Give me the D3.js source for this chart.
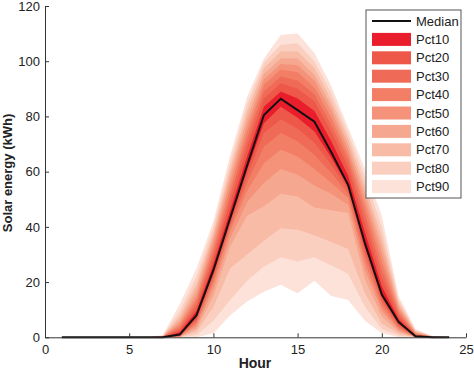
<!DOCTYPE html>
<html>
<head>
<meta charset="utf-8">
<script src="https://cdn.jsdelivr.net/npm/d3@7"></script>
<style>
  body { margin: 0; background: #fff; }
  svg { display: block; font-family: "Liberation Sans", Arial, Helvetica, sans-serif; }
</style>
</head>
<body>
<script>
// hours of the day
const hours = [1,2,3,4,5,6,7,8,9,10,11,12,13,14,15,16,17,18,19,20,21,22,23,24];

const median = [0,0,0,0,0,0,0,1,8,24.3,43.2,62.2,80.5,86.4,82.3,78.1,67,55.2,34,15.5,5.5,0.4,0,0];

// lower / upper edges of each percentile band (kWh)
const pct10Lo = [0,0,0,0,0,0,0,0.8,7.3,23.3,42.3,60.5,77.5,83.5,79.5,74.5,65,54.5,32.8,14.7,5,0.3,0,0];
const pct10Hi = [0,0,0,0,0,0,0.05,1.8,9.5,26.5,46,65.5,83.5,89,86.5,82,71,58.5,38,18.5,6.5,0.6,0.05,0];
const pct20Lo = [0,0,0,0,0,0,0,0.6,6.5,22.3,41.3,58.5,74,79,75.5,70.5,62.5,53.5,31.3,13.7,4.4,0.2,0,0];
const pct20Hi = [0,0,0,0,0,0,0.1,2.6,11,28.5,49,69,86.5,92,90,85.5,74.5,61.5,41.5,21.5,7.5,0.8,0.1,0];
const pct30Lo = [0,0,0,0,0,0,0,0.4,5.7,21,40,56,69,74,71,66,59.5,52,29.5,12.5,3.8,0.1,0,0];
const pct30Hi = [0,0,0,0,0,0,0.15,3.4,12.5,30.5,51.5,72,89,94.5,93,88,77,64,44.5,24.5,8.5,1,0.1,0];
const pct40Lo = [0,0,0,0,0,0,0,0.3,4.8,19.5,38.5,53,63,68,65.5,61,56,50.5,27,11,3.2,0,0,0];
const pct40Hi = [0,0,0,0,0,0,0.2,4.3,14,32.5,54,74.5,91.5,97,96,90.5,79.5,66,47.5,27.5,9.5,1.3,0.15,0];
const pct50Lo = [0,0,0,0,0,0,0,0.2,4,17.5,36,49,56,61,59,55,52,48,24.5,9.5,2.6,0,0,0];
const pct50Hi = [0,0,0,0,0,0,0.3,5.2,15.5,34.5,56.5,77,93.5,99,98.5,93,82,68,50,30.5,10.5,1.6,0.2,0];
const pct60Lo = [0,0,0,0,0,0,0,0.1,3,15,33,44,47.5,52,51,47,46,45,21,7.5,2,0,0,0];
const pct60Hi = [0,0,0,0,0,0,0.4,6.3,17.5,36.5,59,79.5,95.5,101,101,95,84,70,52.5,33.5,11.5,1.9,0.25,0];
const pct70Lo = [0,0,0,0,0,0,0,0,2,11,25,30,35,39.5,39,37,34.5,32,16,5,1.3,0,0,0];
const pct70Hi = [0,0,0,0,0,0,0.5,7.6,19.5,38,61,82,97.5,103.5,103.5,97.5,86,72,55,36.5,12.5,2.2,0.3,0];
const pct80Lo = [0,0,0,0,0,0,0,0,0.8,6,13.5,20.5,25.6,29,27.5,29,26,23,11,3,0.6,0,0,0];
const pct80Hi = [0,0,0,0,0,0,0.6,9.5,22,40,63.5,84.5,99.5,106,106.5,100,88.5,74,58,40,13.7,2.6,0.4,0];
const pct90Lo = [0,0,0,0,0,0,0,0,0,1.5,8,13,16.5,19,16,20.5,15,13.5,6,1.5,0,0,0,0];
const pct90Hi = [0,0,0,0,0,0,0.8,12,25,42,66,87,101,109.5,110,103,91,76,61,44,15,3,0.5,0];

const bandNames = ["Pct10","Pct20","Pct30","Pct40","Pct50","Pct60","Pct70","Pct80","Pct90"];
const bandLo = [pct10Lo,pct20Lo,pct30Lo,pct40Lo,pct50Lo,pct60Lo,pct70Lo,pct80Lo,pct90Lo];
const bandHi = [pct10Hi,pct20Hi,pct30Hi,pct40Hi,pct50Hi,pct60Hi,pct70Hi,pct80Hi,pct90Hi];
const bandColors = ["#ea1d2c","#ee5848","#f06b57","#f27e66","#f49379","#f6a78f","#f8bba6","#fbcfc0","#fde2d9"];

const xTicks = [0,5,10,15,20,25];
const yTicks = [0,20,40,60,80,100,120];

const width = 474, height = 370;

const svg = d3.select("body").append("svg")
    .attr("width", width)
    .attr("height", height);

const x = d3.scaleLinear().domain([0, 25]).range([45, 466]);
const y = d3.scaleLinear().domain([0, 120]).range([337.3, 6]);

// bands, widest (lightest) first so the narrow ones sit on top
for (let b = bandNames.length - 1; b >= 0; b--) {
    const area = d3.area()
        .x((d, i) => x(hours[i]))
        .y0((d, i) => y(bandLo[b][i]))
        .y1((d, i) => y(bandHi[b][i]));
    svg.append("path")
        .datum(hours)
        .attr("d", area)
        .attr("fill", bandColors[b]);
}

const line = d3.line()
    .x((d, i) => x(hours[i]))
    .y(d => y(d));

svg.append("path")
    .datum(median)
    .attr("d", line)
    .attr("fill", "none")
    .attr("stroke", "#111")
    .attr("stroke-width", 2);

// axes (ticks point inward like matlab)
const xAxis = svg.append("g")
    .attr("transform", `translate(0,${y(0)})`)
    .call(d3.axisBottom(x).tickValues(xTicks).tickSizeInner(-4).tickSizeOuter(0).tickPadding(7));

const yAxis = svg.append("g")
    .attr("transform", `translate(${x(0)},0)`)
    .call(d3.axisLeft(y).tickValues(yTicks).tickSizeInner(-4).tickSizeOuter(0).tickPadding(5));

[xAxis, yAxis].forEach(g => {
    g.selectAll("path,line").attr("stroke", "#333");
    g.selectAll("text").attr("font-size", 13).attr("fill", "#222")
        .attr("font-family", "Liberation Sans, Arial, sans-serif");
});

svg.append("text")
    .attr("x", 255).attr("y", 368)
    .attr("text-anchor", "middle")
    .attr("font-size", 14).attr("font-weight", "bold").attr("fill", "#222")
    .text("Hour");

svg.append("text")
    .attr("transform", "translate(12,173) rotate(-90)")
    .attr("text-anchor", "middle")
    .attr("font-size", 13).attr("font-weight", "bold").attr("fill", "#222")
    .text("Solar energy (kWh)");

// legend
const lg = svg.append("g");
lg.append("rect")
    .attr("x", 366).attr("y", 10).attr("width", 95).attr("height", 188)
    .attr("fill", "#fff").attr("stroke", "#555").attr("stroke-width", 1);

const rowY = i => 21 + i * 18.4;

lg.append("line")
    .attr("x1", 372).attr("x2", 411)
    .attr("y1", rowY(0)).attr("y2", rowY(0))
    .attr("stroke", "#111").attr("stroke-width", 2);
lg.append("text")
    .attr("x", 416).attr("y", rowY(0)).attr("dy", "0.35em")
    .attr("font-size", 13).attr("fill", "#222")
    .text("Median");

bandNames.forEach((name, i) => {
    lg.append("rect")
        .attr("x", 372).attr("y", rowY(i + 1) - 6.5)
        .attr("width", 39).attr("height", 13)
        .attr("fill", bandColors[i]);
    lg.append("text")
        .attr("x", 416).attr("y", rowY(i + 1)).attr("dy", "0.35em")
        .attr("font-size", 13).attr("fill", "#222")
        .text(name);
});
</script>
</body>
</html>
